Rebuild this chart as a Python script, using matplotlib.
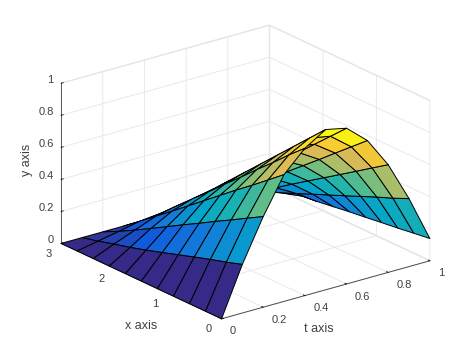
import matplotlib
matplotlib.use('Agg')
import matplotlib.pyplot as plt
import numpy as np
from matplotlib.colors import LinearSegmentedColormap

plt.rcParams['font.family'] = ['Liberation Sans', 'DejaVu Sans']

t_values = [0.0, 0.1, 0.2, 0.3, 0.4, 0.5, 0.6, 0.7, 0.8, 0.9, 1.0]
x_values = [0.0, 0.3, 0.6, 0.9, 1.2, 1.5, 1.8, 2.1, 2.4, 2.7, 3.0]

# one row per t, one column per x
y_values = [
    [0, 0, 0, 0, 0, 0, 0, 0, 0, 0, 0],
    [.304, .270, .240, .208, .175, .142, .110, .080, .054, .025, 0],
    [.565, .508, .450, .394, .335, .279, .220, .162, .105, .050, 0],
    [.791, .710, .630, .553, .473, .393, .313, .233, .155, .077, 0],
    [.919, .830, .735, .645, .550, .460, .365, .275, .183, .090, 0],
    [1.00, .900, .800, .700, .600, .500, .400, .300, .200, .100, 0],
    [.972, .875, .778, .680, .583, .486, .390, .290, .195, .097, 0],
    [.859, .773, .687, .600, .515, .430, .343, .258, .172, .086, 0],
    [.672, .605, .537, .470, .403, .336, .269, .200, .134, .067, 0],
    [.424, .380, .340, .297, .254, .212, .170, .127, .085, .042, 0],
    [.139, .125, .110, .097, .083, .070, .055, .040, .028, .014, 0],
]

t_ticks = [0, 0.2, 0.4, 0.6, 0.8, 1]
t_ticklabels = ['0', '0.2', '0.4', '0.6', '0.8', '1']
x_ticks = [0, 1, 2, 3]
x_ticklabels = ['0', '1', '2', '3']
y_ticks = [0, 0.2, 0.4, 0.6, 0.8, 1]
y_ticklabels = ['0', '0.2', '0.4', '0.6', '0.8', '1']

# parula, old matlab version
parula = LinearSegmentedColormap.from_list('parula', [
    (0.2081, 0.1663, 0.5292), (0.0591, 0.3598, 0.8683), (0.0723, 0.4887, 0.8467),
    (0.0231, 0.6418, 0.7913), (0.0843, 0.6928, 0.7062), (0.3482, 0.7424, 0.5473),
    (0.6473, 0.7456, 0.4188), (0.8507, 0.7299, 0.3360), (0.9880, 0.8066, 0.1794),
    (0.9763, 0.9831, 0.0538)])

text_color = '#404040'
grid_color = '#e6e6e6'

T, X = np.meshgrid(t_values, x_values, indexing='ij')
Y = np.array(y_values)

fig = plt.figure(figsize=(4.74, 3.55), dpi=100)
# axes bigger than the figure so nothing on the right gets clipped
ax = fig.add_axes([40.1 / 474, -22.4 / 355, 400 / 474, 400 / 355], projection='3d')
ax.set_proj_type('ortho')
ax.view_init(elev=21.2, azim=-127.6)
ax.set_box_aspect((1, 1, 0.654), zoom=0.994)

ax.plot_surface(T, X, Y, rstride=1, cstride=1, facecolors=parula(Y),
                shade=False, edgecolor='k', linewidth=0.7, antialiased=True)

ax.set_xlim(0, 1, view_margin=0)
ax.set_ylim(0, 3, view_margin=0)
ax.set_zlim(0, 1, view_margin=0)
ax.set_xticks(t_ticks, t_ticklabels, ha='left', va='center')
ax.set_yticks(x_ticks, x_ticklabels, ha='right', va='center')
ax.set_zticks(y_ticks, y_ticklabels, ha='right', va='baseline')
ax.tick_params(labelsize=8, labelcolor=text_color)
ax.tick_params(axis='x', pad=0)
ax.tick_params(axis='y', pad=-1)
ax.tick_params(axis='z', pad=-5)

for axis in (ax.xaxis, ax.yaxis, ax.zaxis):
    axis.set_pane_color((1, 1, 1, 1))
    axis.pane.set_edgecolor(grid_color)
    axis.line.set_color(text_color)
    axis.line.set_linewidth(0.6)
    axis._axinfo['grid']['color'] = grid_color
    axis._axinfo['grid']['linewidth'] = 0.6
    axis._axinfo['tick']['color'] = text_color
    axis._axinfo['tick']['linewidth'] = {True: 0.6, False: 0.6}
    axis._axinfo['tick']['inward_factor'] = 0.0
    axis._axinfo['tick']['outward_factor'] = 0.12

fig.text(141 / 474, 1 - 326 / 355, 'x axis', color=text_color, fontsize=9, ha='center', va='center')
fig.text(319 / 474, 1 - 329 / 355, 't axis', color=text_color, fontsize=9, ha='center', va='center')
fig.text(27 / 474, 1 - 160 / 355, 'y axis', color=text_color, fontsize=9, rotation=90, ha='center', va='center')

fig.savefig('out.png', dpi=100)
